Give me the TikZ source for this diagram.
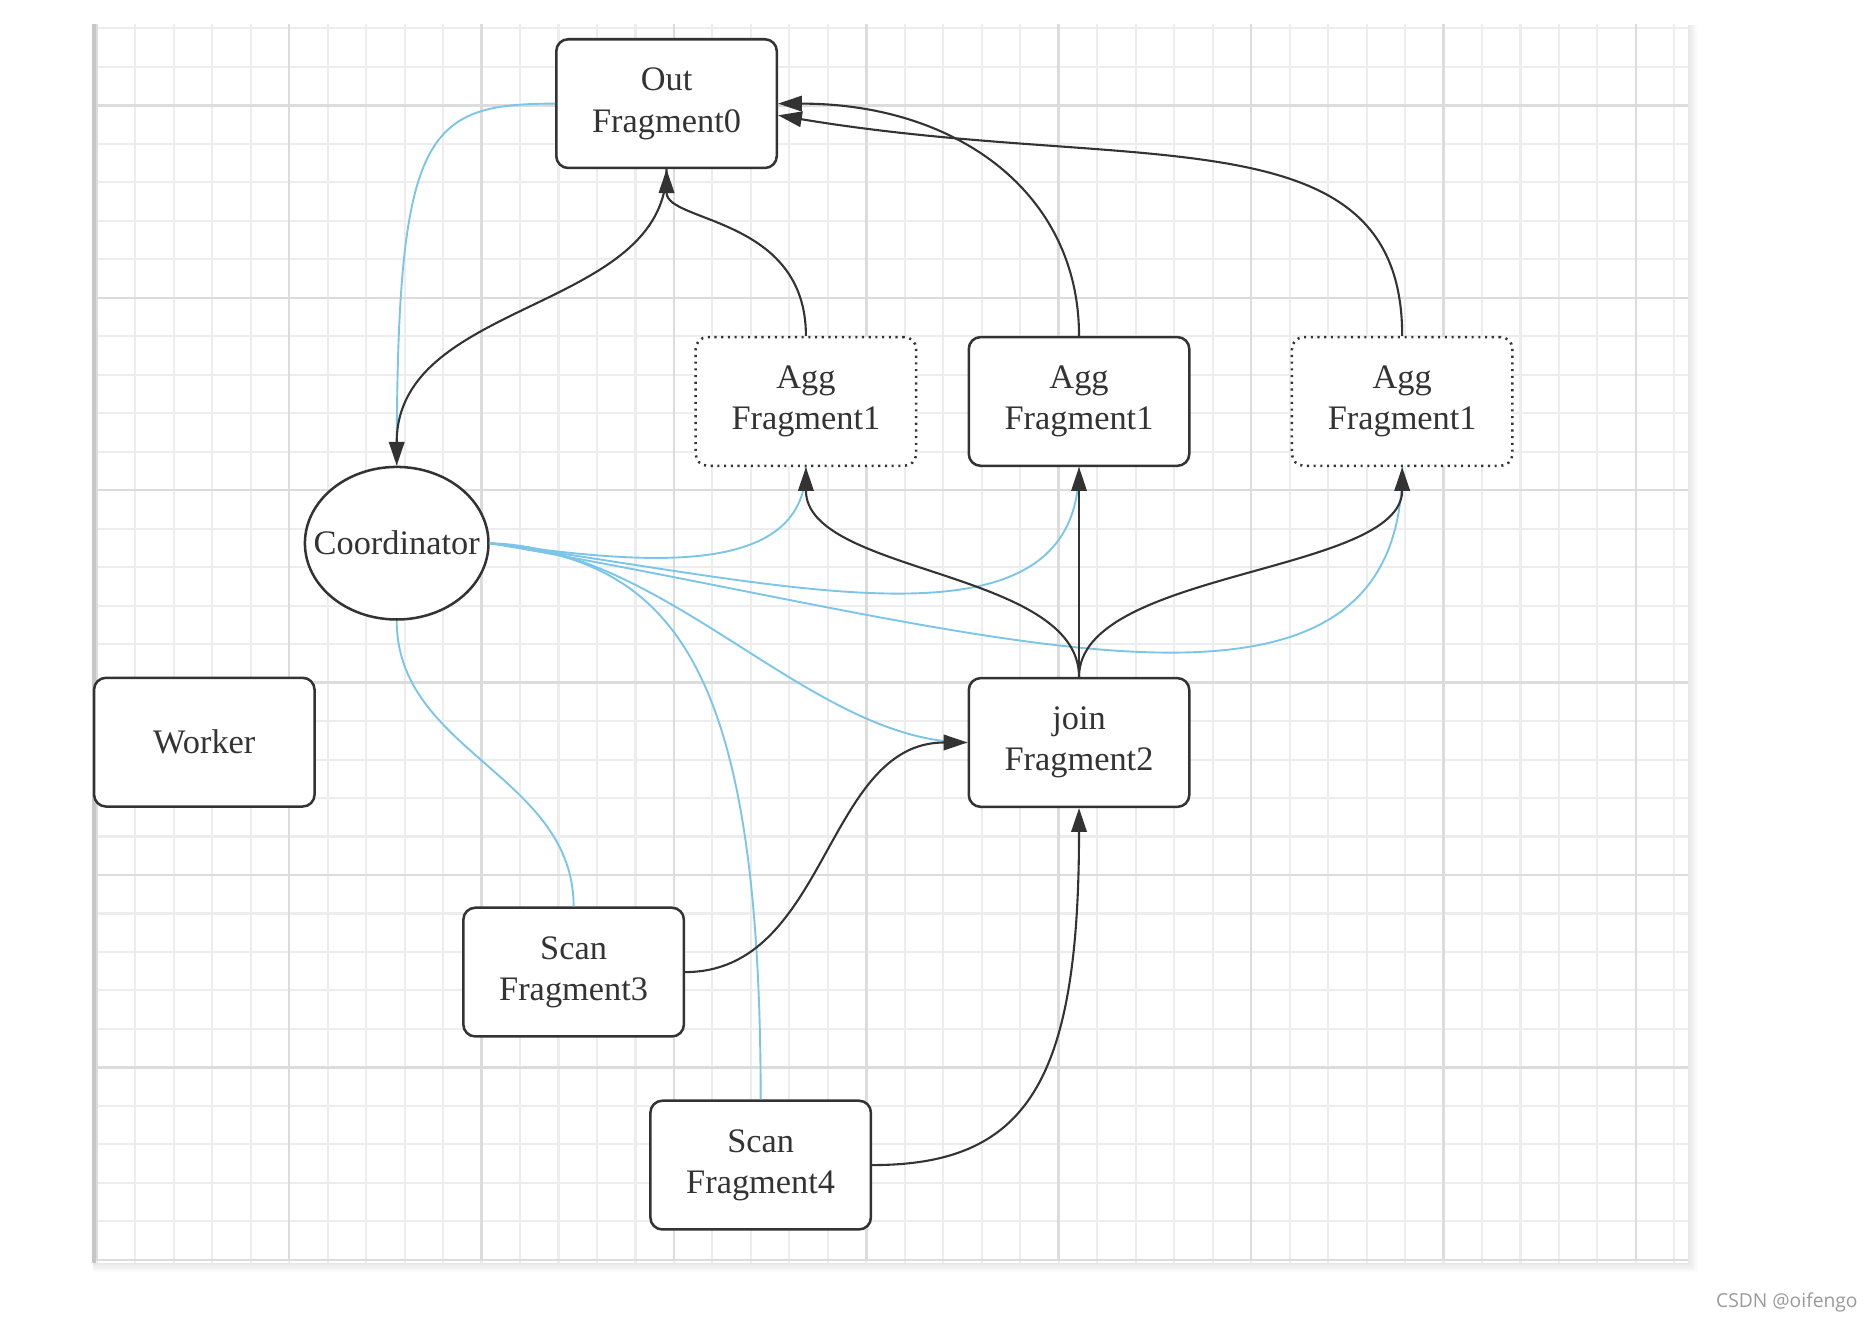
\documentclass[tikz,border=0pt]{standalone}
\usepackage{fontspec}
\setmainfont{Liberation Serif}
\newfontfamily\markfont{Open Sans}
\usetikzlibrary{positioning,arrows.meta,shapes.geometric}
\definecolor{planink}{HTML}{333333}
\definecolor{planblue}{HTML}{7BC6E8}
\definecolor{gridminor}{HTML}{EDEDED}
\definecolor{gridmajor}{HTML}{DCDCDC}
\definecolor{markgray}{HTML}{9A9A9A}

\begin{document}
\begin{tikzpicture}[
  x=0.01cm, y=0.01cm,
  font=\fontsize{8.2}{9.9}\selectfont,
  frag/.style={draw=planink, fill=white, line width=0.6pt, rounded corners=0.1cm, align=center, text=planink, minimum width=1.85cm, minimum height=1.08cm, inner sep=0pt},
  fragdot/.style={frag, dash pattern=on 0.5pt off 1.1pt},
  hub/.style={ellipse, draw=planink, fill=white, line width=0.6pt, minimum width=1.54cm, minimum height=1.28cm, inner sep=0pt, text=planink},
  arr/.style={-{Triangle[length=0.2cm, width=0.13cm]}, line width=0.5pt, draw=planink},
  sched/.style={line width=0.45pt, draw=planblue},
  gridmin/.style={draw=gridminor, line width=0.5pt},
  gridmaj/.style={draw=gridmajor, line width=0.6pt}
]
\useasboundingbox (0,0) rectangle (1568,1110);

% canvas sheet with its soft shadow
\foreach \d in {1,...,8}
  \fill[black, opacity=0.012] (78,50-\d) rectangle (1417+\d,1089);
\fill[white] (79,50) rectangle (1417,1090);
\begin{scope}[shift={(81.2,20.2)}]
  \draw[gridmin, step=32.3] (-2,29.8) grid (1335.8,1069.8);
\end{scope}
\begin{scope}[shift={(81.2,52.5)}]
  \draw[gridmaj, step=161.5] (-1,-1) grid (1335.8,1037.5);
\end{scope}
\draw[gray!45, line width=0.8pt] (79,50) -- (79,1090);

\node[frag] (out) at (559.5,1023) {Out\\Fragment0};
\node[fragdot] (agg1a) at (676.5,773) {Agg\\Fragment1};
\node[frag, right=0.42cm of agg1a] (agg1b) {Agg\\Fragment1};
\node[fragdot, right=0.84cm of agg1b] (agg1c) {Agg\\Fragment1};
\node[hub] (coord) at (333,654) {\makebox[0pt]{Coordinator}};
\node[frag] (worker) at (171.5,487) {Worker};
\node[frag, below=1.76cm of agg1b] (join) {join\\Fragment2};
\node[frag] (scan3) at (481.5,294) {Scan\\Fragment3};
\node[frag] (scan4) at (638.5,132) {Scan\\Fragment4};

% coordinator hands out the fragments
\draw[sched] (out.west) .. controls +(-110,0) and +(0,280) .. (coord.north);
\draw[sched] (coord.east) .. controls +(110,-14) and +(0,-100) .. (agg1a.south);
\draw[sched] (coord.east) .. controls +(250,-34) and +(0,-164) .. (agg1b.south);
\draw[sched] (coord.east) .. controls +(400,-67) and +(0,-260) .. (agg1c.south);
\draw[sched] (coord.east) .. controls +(150,-4) and +(-131,0) .. (join.west);
\draw[sched] (coord.east) .. controls +(150,-14) and +(0,374) .. (scan4.north);
\draw[sched] (coord.south) .. controls +(0,-110) and +(0,110) .. (scan3.north);

% data flow
\draw[arr] (out.south) .. controls +(0,-120) and +(0,140) .. (coord.north);
\draw[arr] (agg1a.north) .. controls +(0,100) and +(0,-45) .. (out.south);
\draw[arr] (agg1b.north) .. controls +(0,120) and +(150,0) .. (out.east);
\draw[arr] (agg1c.north) .. controls +(0,190) and +(300,-50) .. (out.-6);
\draw[arr] (join.north) .. controls +(0,90) and +(0,-90) .. (agg1a.south);
\draw[arr, line width=0.4pt] (join.north) -- (agg1b.south);
\draw[arr] (join.north) .. controls +(0,90) and +(0,-90) .. (agg1c.south);
\draw[arr] (scan3.east) .. controls +(120,0) and +(-120,0) .. (join.west);
\draw[arr] (scan4.east) .. controls +(130,0) and +(0,-230) .. (join.south);

\node[font=\markfont\fontsize{4.6}{5}\selectfont, text=markgray, anchor=east, inner sep=0pt] (mark) at (1560,17) {CSDN @oifengo};
\end{tikzpicture}
\end{document}
